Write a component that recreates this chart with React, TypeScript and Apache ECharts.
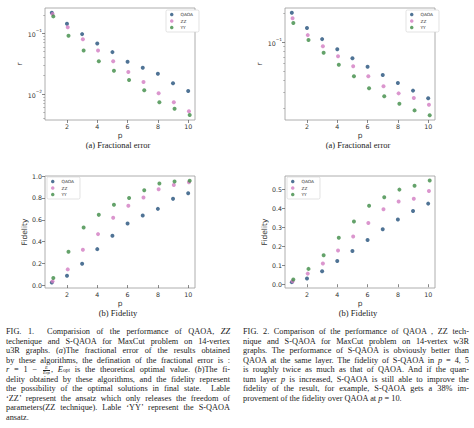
import { useEffect, useRef } from 'react';
import * as echarts from 'echarts';

// layers p = 1..10
const pLayers = [1, 2, 3, 4, 5, 6, 7, 8, 9, 10];
const seriesNames = ['QAOA', 'ZZ', 'YY'];
const seriesColors = ['#23507a', '#d27cc2', '#3d8b45'];

// fractional error, u3R graphs (Fig. 1a)
const fracErrQaoaU3R = [0.218, 0.144, 0.097, 0.068, 0.049, 0.034, 0.027, 0.0216, 0.015, 0.0112];
const fracErrZzU3R = [0.208, 0.126, 0.08, 0.052, 0.0346, 0.023, 0.0158, 0.0103, 0.0073, 0.0052];
const fracErrYyU3R = [0.19, 0.091, 0.052, 0.0346, 0.0242, 0.017, 0.0115, 0.0073, 0.0057, 0.0045];

// fractional error, w3R graphs (Fig. 2a)
const fracErrQaoaW3R = [0.205, 0.1415, 0.108, 0.0844, 0.0679, 0.0554, 0.0453, 0.0373, 0.031, 0.0257];
const fracErrZzW3R = [0.179, 0.119, 0.0908, 0.0713, 0.0559, 0.0439, 0.0344, 0.029, 0.0259, 0.022];
const fracErrYyW3R = [0.16, 0.1057, 0.0778, 0.0581, 0.0439, 0.0328, 0.027, 0.0226, 0.0192, 0.0171];

// fidelity, u3R graphs (Fig. 1b)
const fidQaoaU3R = [0.024, 0.086, 0.196, 0.33, 0.453, 0.566, 0.639, 0.7, 0.792, 0.844];
const fidZzU3R = [0.034, 0.144, 0.324, 0.468, 0.618, 0.728, 0.804, 0.881, 0.92, 0.945];
const fidYyU3R = [0.064, 0.306, 0.529, 0.645, 0.737, 0.8, 0.872, 0.933, 0.951, 0.958];

// fidelity, w3R graphs (Fig. 2b)
const fidQaoaW3R = [0.011, 0.03, 0.069, 0.123, 0.176, 0.234, 0.29, 0.342, 0.387, 0.426];
const fidZzW3R = [0.016, 0.056, 0.109, 0.178, 0.252, 0.324, 0.396, 0.437, 0.452, 0.493];
const fidYyW3R = [0.025, 0.081, 0.153, 0.246, 0.331, 0.415, 0.46, 0.5, 0.521, 0.548];

// ticks
const xTickValues = [2, 4, 6, 8, 10];
const logTicksU3R = [0.1, 0.01];
const logTicksW3R = [0.1];
const minorLogTicksU3R = [0.004, 0.005, 0.006, 0.007, 0.008, 0.009, 0.02, 0.03, 0.04, 0.05, 0.06, 0.07, 0.08, 0.09, 0.2];
const minorLogTicksW3R = [0.02, 0.03, 0.04, 0.05, 0.06, 0.07, 0.08, 0.09, 0.2];
const fidTicksU3R = [0, 0.2, 0.4, 0.6, 0.8, 1.0];
const fidTicksW3R = [0, 0.1, 0.2, 0.3, 0.4, 0.5];

// small sideways shift of the three series, as in the original plot
const xShift = [0, 0.05, 0.1];

const tickFont = 'DejaVu Sans';
const serif = '"Liberation Serif", "DejaVu Serif", serif';

const panels = [
    { grid: { left: 45, top: 8, width: 150, height: 112 }, log: true, yRange: [-2.428, -0.583], yTicks: logTicksU3R, minor: minorLogTicksU3R, data: [fracErrQaoaU3R, fracErrZzU3R, fracErrYyU3R], yName: 'r', yNameGap: 22, legend: { left: 166, top: 10 }, caption: '(a) Fractional error' },
    { grid: { left: 285, top: 8, width: 150, height: 112 }, log: true, yRange: [-1.818, -0.639], yTicks: logTicksW3R, minor: minorLogTicksW3R, data: [fracErrQaoaW3R, fracErrZzW3R, fracErrYyW3R], yName: 'r', yNameGap: 21, legend: { left: 406, top: 10 }, caption: '(a) Fractional error' },
    { grid: { left: 45, top: 176, width: 150, height: 112 }, log: false, yRange: [-0.027, 1.002], yTicks: fidTicksU3R, minor: [], data: [fidQaoaU3R, fidZzU3R, fidYyU3R], yName: 'Fidelity', yNameGap: 16, legend: { left: 47, top: 177 }, caption: '(b) Fidelity' },
    { grid: { left: 285, top: 176, width: 150, height: 112 }, log: false, yRange: [-0.02, 0.572], yTicks: fidTicksW3R, minor: [], data: [fidQaoaW3R, fidZzW3R, fidYyW3R], yName: 'Fidelity', yNameGap: 16, legend: { left: 287, top: 177 }, caption: '(b) Fidelity' },
];

const FigureCharts = () => {
    const chartRef = useRef<HTMLDivElement>(null);

    useEffect(() => {
        if (!chartRef.current) return;
        const chart = echarts.init(chartRef.current, null, { renderer: 'svg' });

        const grids: any[] = [];
        const xAxes: any[] = [];
        const yAxes: any[] = [];
        const series: any[] = [];
        const legends: any[] = [];
        const graphics: any[] = [];

        panels.forEach((panel, gi) => {
            grids.push({ ...panel.grid, show: true, borderColor: '#9a9a9a', borderWidth: 0.8, backgroundColor: 'transparent' });

            const tickStyle = { show: true, inside: false, length: 3, lineStyle: { color: '#555', width: 0.7 } };

            xAxes.push({
                type: 'value',
                gridIndex: gi,
                min: 0.55,
                max: 10.45,
                axisLine: { show: false },
                splitLine: { show: false },
                axisTick: { ...tickStyle, customValues: xTickValues },
                axisLabel: { customValues: xTickValues, fontSize: 6.3, color: '#333', fontFamily: tickFont, margin: 3 },
                name: 'p',
                nameLocation: 'middle',
                nameGap: 11,
                nameTextStyle: { fontSize: 7.5, color: '#333', fontFamily: tickFont, lineHeight: 8 },
            });

            const yTickVals = panel.log ? panel.yTicks.map((v) => Math.log10(v)) : panel.yTicks;
            yAxes.push({
                type: 'value',
                gridIndex: gi,
                position: 'left',
                min: panel.yRange[0],
                max: panel.yRange[1],
                axisLine: { show: false },
                splitLine: { show: false },
                axisTick: { ...tickStyle, customValues: yTickVals },
                axisLabel: {
                    customValues: yTickVals,
                    fontSize: 6.3,
                    color: '#333',
                    fontFamily: tickFont,
                    margin: 3,
                    formatter: panel.log
                        ? (v: number) => `{b|10}{s|\u2212${Math.round(-v)}}`
                        : (v: number) => v.toFixed(1),
                    rich: panel.log
                        ? {
                            b: { fontSize: 6.3, color: '#333', fontFamily: tickFont, lineHeight: 9, verticalAlign: 'bottom' },
                            s: { fontSize: 4.3, color: '#333', fontFamily: tickFont, lineHeight: 9, verticalAlign: 'top' },
                        }
                        : undefined,
                },
                name: panel.yName,
                nameLocation: 'middle',
                nameGap: panel.yNameGap,
                nameTextStyle: { fontSize: 7.5, color: '#333', fontFamily: tickFont },
            });
            const mainYIndex = yAxes.length - 1;

            if (panel.log) {
                // minor ticks of the log axis
                yAxes.push({
                    type: 'value',
                    gridIndex: gi,
                    position: 'left',
                    min: panel.yRange[0],
                    max: panel.yRange[1],
                    axisLine: { show: false },
                    splitLine: { show: false },
                    axisLabel: { show: false },
                    axisTick: { show: true, length: 1.8, lineStyle: { color: '#777', width: 0.5 }, customValues: panel.minor.map((v) => Math.log10(v)) },
                });
            }

            panel.data.forEach((vals, k) => {
                series.push({
                    name: seriesNames[k],
                    type: 'scatter',
                    xAxisIndex: gi,
                    yAxisIndex: mainYIndex,
                    symbol: 'circle',
                    symbolSize: 4,
                    itemStyle: { color: seriesColors[k] },
                    data: pLayers.map((p, i) => [p + xShift[k], panel.log ? Math.log10(vals[i]) : vals[i]]),
                });
            });

            legends.push({
                data: seriesNames,
                left: panel.legend.left,
                top: panel.legend.top,
                orient: 'vertical',
                icon: 'circle',
                itemWidth: 3.5,
                itemHeight: 3.5,
                itemGap: 2.5,
                padding: [2.5, 6, 2.5, 4],
                borderColor: '#d0d0d0',
                borderWidth: 0.6,
                borderRadius: 1.5,
                backgroundColor: '#fff',
                selectedMode: false,
                textStyle: { fontSize: 4.3, color: '#333', fontFamily: tickFont, padding: [0, 0, 0, 2] },
            });

            graphics.push({
                type: 'text',
                x: panel.grid.left + panel.grid.width / 2 - 2,
                y: panel.grid.top + panel.grid.height + 25,
                style: { text: panel.caption, fontSize: 8.5, fontFamily: serif, fill: '#1a1a1a', align: 'center', verticalAlign: 'middle' },
            });
        });

        chart.setOption({
            animation: false,
            grid: grids,
            xAxis: xAxes,
            yAxis: yAxes,
            legend: legends,
            series,
            graphic: graphics,
        });

        return () => chart.dispose();
    }, []);

    return <div ref={chartRef} style={{ position: 'absolute', left: 0, top: 0, width: 474, height: 325 }} />;
};

const lineStyle = { height: 9.5, lineHeight: '9.5px', textAlign: 'justify' as const, textAlignLast: 'justify' as const, whiteSpace: 'normal' as const };
const lastLineStyle = { height: 9.5, lineHeight: '9.5px', textAlign: 'left' as const };

const Frac = () => (
    <span style={{ display: 'inline-block', verticalAlign: 'middle', textAlign: 'center', fontSize: 4.6, lineHeight: '4px', height: 8, margin: '0 1px', textAlignLast: 'center' }}>
        <span style={{ display: 'block', borderBottom: '0.5px solid #222' }}><i>E</i></span>
        <span style={{ display: 'block' }}><i>E</i><span style={{ fontSize: 3.3 }}>opt</span></span>
    </span>
);

const Caption1 = () => (
    <div style={{ position: 'absolute', left: 6, top: 327, width: 224, fontFamily: serif, fontSize: 8.3, color: '#1a1a1a' }}>
        <div style={lineStyle}>FIG. 1.&nbsp; Comparision of the performance of QAOA, <i>ZZ</i></div>
        <div style={lineStyle}>techenique and S-QAOA for MaxCut problem on 14-vertex</div>
        <div style={lineStyle}>u3R graphs. (<i>a</i>)The fractional error of the results obtained</div>
        <div style={lineStyle}>by these algorithms, the defination of the fractional error is :</div>
        <div style={{ ...lineStyle, overflow: 'visible' }}><i>r</i> = 1 − <Frac />, <i>E</i><span style={{ fontSize: 5.5 }}>opt</span> is the theoretical optimal value. (<i>b</i>)The fi-</div>
        <div style={lineStyle}>delity obtained by these algorithms, and the fidelity represent</div>
        <div style={lineStyle}>the possibility of the optimal solutions in final state.&nbsp; Lable</div>
        <div style={lineStyle}>‘ZZ’ represent the ansatz which only releases the freedom of</div>
        <div style={lineStyle}>parameters(ZZ technique). Lable ‘YY’ represent the S-QAOA</div>
        <div style={lastLineStyle}>ansatz.</div>
    </div>
);

const Caption2 = () => (
    <div style={{ position: 'absolute', left: 243, top: 327, width: 226, fontFamily: serif, fontSize: 8.3, color: '#1a1a1a' }}>
        <div style={lineStyle}>FIG. 2. Comparison of the performance of QAOA , ZZ tech-</div>
        <div style={lineStyle}>nique and S-QAOA for MaxCut problem on 14-vertex w3R</div>
        <div style={lineStyle}>graphs. The performance of S-QAOA is obviously better than</div>
        <div style={lineStyle}>QAOA at the same layer. The fidelity of S-QAOA in <i>p</i> = 4, 5</div>
        <div style={lineStyle}>is roughly twice as much as that of QAOA. And if the quan-</div>
        <div style={lineStyle}>tum layer <i>p</i> is increased, S-QAOA is still able to improve the</div>
        <div style={lineStyle}>fidelity of the result, for example, S-QAOA gets a 38% im-</div>
        <div style={lastLineStyle}>provement of the fidelity over QAOA at <i>p</i> = 10.</div>
    </div>
);

export default function App() {
    return (
        <div style={{ position: 'fixed', left: 0, top: 0, width: 474, height: 428, background: '#fff', overflow: 'hidden' }}>
            <FigureCharts />
            <Caption1 />
            <Caption2 />
        </div>
    );
}
